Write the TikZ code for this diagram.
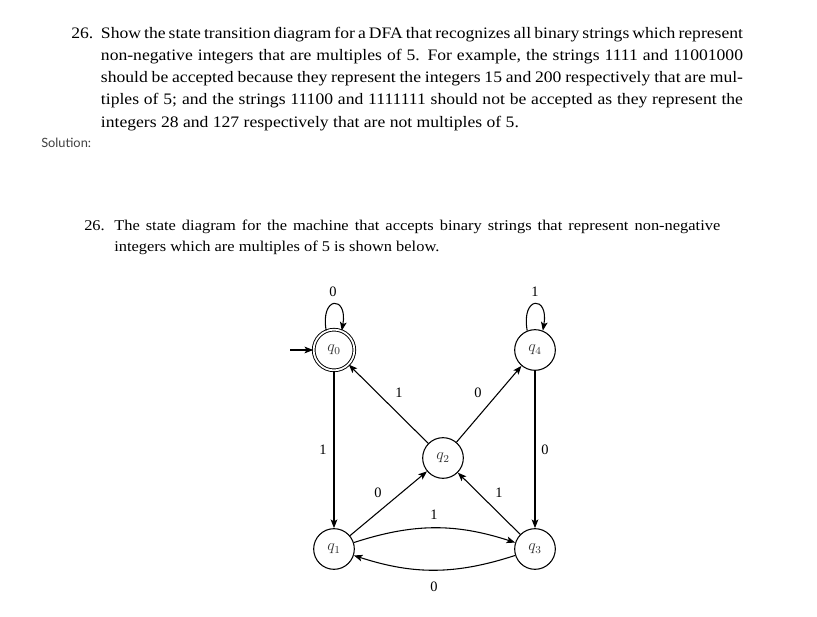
\documentclass[tikz,border=0pt]{standalone}
\usepackage{fontspec}
\setmainfont{Liberation Serif}
\newfontfamily\wideserif[FakeStretch=1.1]{Liberation Serif}
\newfontfamily\solfont{Lato}
\usetikzlibrary{arrows.meta}
\tikzset{
  st/.style={circle, draw, line width=0.8pt, minimum size=30.5pt, inner sep=0pt, font=\fontsize{11.5}{13}\selectfont, text=black!80},
  acc/.style={st, double, double distance=1.3pt, line width=0.7pt},
  arr/.style={line width=0.8pt, -{Stealth[length=6.5pt,width=5pt,inset=1.5pt]}},
  lab/.style={inner sep=0pt, font=\fontsize{10.8}{12}\selectfont},
  txt/.style={inner sep=0pt, anchor=base west}
}
\begin{document}
\begin{tikzpicture}[x=0.75pt, y=0.75pt]
\useasboundingbox[fill=white] (0,0) rectangle (817,617);
% problem text
\node[txt, font=\wideserif\fontsize{12}{16.65}\selectfont] (n1) at (71,578.7) {26.};
\node[txt] (p1) at (100.7,578.7) {\parbox[t]{481.5pt}{\wideserif\fontsize{12}{16.65}\selectfont
Show the state transition diagram for a DFA that recognizes all binary strings which represent\linebreak
non-negative integers that are multiples of 5. For example, the strings 1111 and 11001000\linebreak
should be accepted because they represent the integers 15 and 200 respectively that are mul-\linebreak
tiples of 5; and the strings 11100 and 1111111 should not be accepted as they represent the\linebreak
integers 28 and 127 respectively that are not multiples of 5.}};
\node[txt, font=\solfont\fontsize{9.6}{11}\selectfont, text=black!75] (sol) at (41,469) {Solution:};
% answer text
\node[txt, font=\wideserif\fontsize{11.2}{15.75}\selectfont] (n2) at (84,386) {26.};
\node[txt] (p2) at (114,386) {\parbox[t]{454.5pt}{\wideserif\fontsize{11.2}{15.75}\selectfont
The state diagram for the machine that accepts binary strings that represent non-negative\linebreak
integers which are multiples of 5 is shown below.}};
% states
\node[acc] (q0) at (334,267) {$q_0$};
\node[st] (q4) at (535,267) {$q_4$};
\node[st] (q2) at (443,159) {$q_2$};
\node[st] (q1) at (334,68) {$q_1$};
\node[st] (q3) at (535,68) {$q_3$};
\coordinate (init) at (290,267);
\draw[arr] (init) -- (q0);
% loops
\draw[arr] (q0.112) .. controls +(100:36) and +(80:36) .. (q0.68);
\node[lab] (l0) at (333,325) {0};
\draw[arr] (q4.112) .. controls +(100:36) and +(80:36) .. (q4.68);
\node[lab] (l4) at (535,325) {1};
% transitions
\draw[arr] (q0) -- (q1);
\node[lab] (l01) at (323,167) {1};
\draw[arr] (q2) -- (q0);
\node[lab] (l20) at (399,224) {1};
\draw[arr] (q2) -- (q4);
\node[lab] (l24) at (478,224) {0};
\draw[arr] (q4) -- (q3);
\node[lab] (l43) at (545,167) {0};
\draw[arr] (q1) -- (q2);
\node[lab] (l12) at (378,124) {0};
\draw[arr] (q3) -- (q2);
\node[lab] (l32) at (499,124) {1};
\draw[arr] (q1) to[bend left=18] (q3);
\node[lab] (l13) at (434,102) {1};
\draw[arr] (q3) to[bend left=18] (q1);
\node[lab] (l31) at (434,30) {0};
\end{tikzpicture}
\end{document}
